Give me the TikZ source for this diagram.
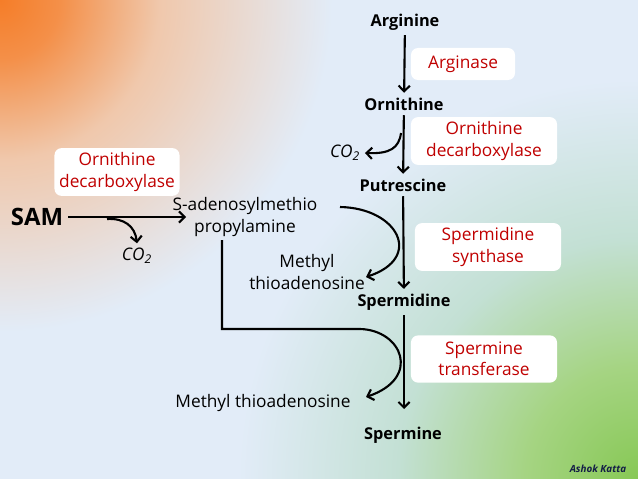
\documentclass[tikz,border=0pt]{standalone}
\usepackage{fontspec}
\setmainfont{Open Sans}
\usepackage{xcolor}
\usetikzlibrary{arrows.meta}
\usetikzlibrary{positioning}

\definecolor{enzred}{RGB}{192,0,0}
\definecolor{bgblue}{RGB}{226,236,248}
\definecolor{bgorange}{RGB}{245,125,40}
\definecolor{bgpeach}{RGB}{240,200,172}
\definecolor{bggreen}{RGB}{135,200,85}
\definecolor{bgmint}{RGB}{165,212,130}
\definecolor{bgteal}{RGB}{195,224,212}
\definecolor{signavy}{RGB}{20,30,70}

\pgfdeclareradialshading{orangeglow}{\pgfpointorigin}{color(0bp)=(bgorange); color(4.5bp)=(bgorange!75!bgpeach); color(12bp)=(bgpeach); color(25bp)=(bgblue); color(50bp)=(bgblue)}
\pgfdeclareradialshading{greenglow}{\pgfpointorigin}{color(0bp)=(bggreen); color(7bp)=(bgmint); color(15bp)=(bgteal); color(25bp)=(bgblue); color(50bp)=(bgblue)}

\tikzset{
  metab/.style={font=\fontsize{11.6}{14}\selectfont\bfseries},
  plain/.style={font=\fontsize{12.3}{15}\selectfont, align=center},
  enzyme/.style={fill=white, rounded corners=5pt, text=enzred, align=center,
    font=\fontsize{12.3}{15}\selectfont, minimum width=3.65cm, minimum height=1.18cm},
  flow/.style={line width=1.5pt, -{Straight Barb[length=4pt,width=8pt]}},
}

\begin{document}
\begin{tikzpicture}[x=0.025cm, y=-0.025cm]

\useasboundingbox (0,0) rectangle (638,479);

% background
\fill[bgblue] (0,0) rectangle (638,479);
\begin{scope}
\clip (0,0) rectangle (638,479);
\shade[shading=orangeglow] (0,0) circle (8.3cm);
\shade[shading=greenglow] (638,479) circle (10cm);
\end{scope}

% main chain
\node[metab] (arg) at (405,22) {Arginine};
\node[metab] (orn) at (404,104) {Ornithine};
\node[metab] (put) at (403,185) {Putrescine};
\node[metab] (spd) at (404,302) {Spermidine};
\node[metab] (spm) at (403,435) {Spermine};

\node[enzyme, minimum width=2.6cm, minimum height=0.8cm] (arginase) at (463,64) {Arginase};
\node[enzyme] (odc) at (484,141) {Ornithine\\decarboxylase};
\node[enzyme] (spdsyn) at (488,247) {Spermidine\\synthase};
\node[enzyme] (spmtr) at (484,359) {Spermine\\transferase};

\coordinate(spmtop) at (404,409);

\draw [flow] (arg) -- (orn);
\draw [flow] (orn) -- (put);
\draw [flow] (put) -- (spd);
\draw [flow] (spd) -- (spmtop);

% CO2 from ornithine
\node[plain] (co2a) at (345,153) {\itshape CO\textsubscript{2}};
\coordinate(odcfrom) at (401,133);
\draw [flow] (odcfrom) .. controls (399,148) and (390,154) .. (co2a.east);

% SAM branch
\node[font=\fontsize{17}{19}\selectfont\bfseries] (sam) at (37,217) {SAM};
\node[plain] (sap) at (245,217) {S-adenosylmethio\\propylamine};
\node[enzyme, minimum width=2.95cm, minimum height=1.15cm] (samdc) at (117,172) {Ornithine\\decarboxylase};
\node[plain] (co2b) at (137,256) {\itshape CO\textsubscript{2}};

\coordinate(samtip) at (186,217);
\draw [flow] (sam) -- (samtip);

\coordinate(samfrom) at (107,219);
\draw [flow] (samfrom) .. controls (124,218) and (135,226) .. (co2b.north);

% propylamine to spermidine
\node[plain] (mta1) at (307,272) {Methyl\\thioadenosine};
\coordinate(sapr) at (340,207);
\coordinate(mta1tip) at (366,277);
\draw [flow] (sapr) .. controls (398,208) and (424,258) .. (mta1tip);

% propylamine to spermine
\node[plain] (mta2) at (263,403) {Methyl thioadenosine};
\coordinate(sapdown) at (222,240);
\coordinate(sapcorner) at (222,329);
\coordinate(sapbend) at (360,329);
\coordinate(mta2tip) at (366,397);
\draw [flow] (sapdown) -- (sapcorner) -- (sapbend)
  .. controls (402,330) and (422,378) .. (mta2tip);

\node[font=\fontsize{7}{8}\selectfont\bfseries\itshape, text=signavy] (sig) at (598,469) {Ashok Katta};

\end{tikzpicture}
\end{document}
